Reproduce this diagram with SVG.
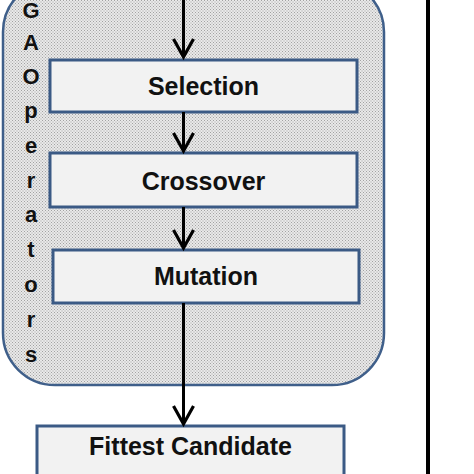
<svg xmlns="http://www.w3.org/2000/svg" width="474" height="474" viewBox="0 0 474 474">
<defs>
<pattern id="dots" x="0" y="0" width="3" height="3" patternUnits="userSpaceOnUse">
<rect width="3" height="3" fill="#e9e9e9"/>
<rect x="0" y="0" width="1" height="1" fill="#a2a2a2"/>
<rect x="1.5" y="1.5" width="1" height="1" fill="#a2a2a2"/>
</pattern>
<marker id="chev" markerUnits="userSpaceOnUse" markerWidth="24" markerHeight="26" refX="20" refY="11" orient="auto" viewBox="0 0 24 26">
<path d="M2,1 L20,11 L2,21" fill="none" stroke="#000" stroke-width="3.2"/>
</marker>
<style>
.box{fill:#f2f2f2;stroke:#3b5a85;stroke-width:3}
.lbl{font-family:"Liberation Sans",Arial,sans-serif;font-weight:bold;font-size:25px;fill:#111;text-anchor:middle}
.v{font-family:"Liberation Sans",Arial,sans-serif;font-weight:bold;font-size:22px;fill:#111;text-anchor:middle}
.conn{stroke:#000;stroke-width:3;fill:none;marker-end:url(#chev)}
</style>
</defs>
<rect width="474" height="474" fill="#fff"/>
<g id="ga-operators">
<rect x="3" y="-20" width="381" height="405" rx="52" ry="52" fill="url(#dots)" stroke="#3f5f8a" stroke-width="2.5"/>
<text class="v" x="31" y="18">G</text>
<text class="v" x="31" y="50">A</text>
<text class="v" x="31" y="84">O</text>
<text class="v" x="31" y="118">p</text>
<text class="v" x="31" y="153">e</text>
<text class="v" x="31" y="188">r</text>
<text class="v" x="31" y="222">a</text>
<text class="v" x="31" y="257">t</text>
<text class="v" x="31" y="292">o</text>
<text class="v" x="31" y="327">r</text>
<text class="v" x="31" y="362">s</text>
</g>
<g id="selection">
<rect class="box" x="50" y="60" width="307" height="52"/>
<text class="lbl" x="203.5" y="95">Selection</text>
</g>
<g id="crossover">
<rect class="box" x="50" y="153" width="307" height="54"/>
<text class="lbl" x="203.5" y="190">Crossover</text>
</g>
<g id="mutation">
<rect class="box" x="53" y="250" width="306" height="53"/>
<text class="lbl" x="206" y="285">Mutation</text>
</g>
<g id="fittest">
<rect class="box" x="37" y="426" width="307" height="60"/>
<text class="lbl" x="190.5" y="455">Fittest Candidate</text>
</g>
<g id="connectors">
<line class="conn" x1="183.5" y1="0" x2="183.5" y2="57"/>
<line class="conn" x1="183.5" y1="112" x2="183.5" y2="151"/>
<line class="conn" x1="183.5" y1="207" x2="183.5" y2="248"/>
<line class="conn" x1="183.5" y1="303" x2="183.5" y2="424"/>
</g>
<g id="border-line">
<line x1="428" y1="0" x2="428" y2="474" stroke="#000" stroke-width="4"/>
</g>
</svg>
